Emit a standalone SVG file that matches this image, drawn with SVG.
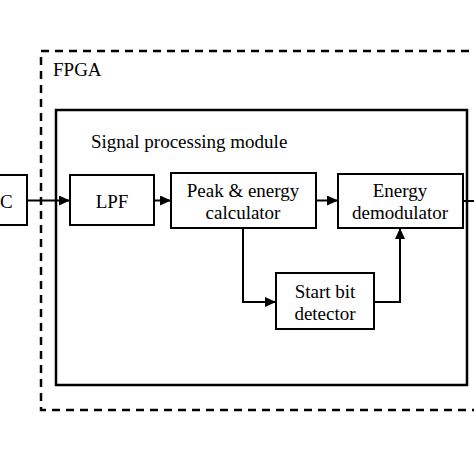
<svg xmlns="http://www.w3.org/2000/svg" width="474" height="474" viewBox="0 0 474 474">
<defs>
<marker id="arr" markerWidth="11" markerHeight="10" refX="11" refY="5" orient="auto" markerUnits="userSpaceOnUse">
<path d="M0,0 L11,5 L0,10 Z" fill="#000"/>
</marker>
<style>
.box{fill:#fff;stroke:#000;stroke-width:2}
.lbl{font-family:"Liberation Serif","Times New Roman",serif;font-size:19px;fill:#000;text-anchor:middle}
.ln{fill:none;stroke:#000;stroke-width:2}
</style>
</defs>
<rect width="474" height="474" fill="#fff"/>
<g id="fpga">
<rect x="41" y="51" width="460" height="359" fill="none" stroke="#000" stroke-width="2.5" stroke-dasharray="8,6"/>
<text x="53" y="76" class="lbl" style="text-anchor:start">FPGA</text>
</g>
<g id="module">
<rect x="56" y="110" width="411" height="275" fill="none" stroke="#000" stroke-width="2.5"/>
<text x="91" y="148" class="lbl" style="text-anchor:start">Signal processing module</text>
</g>
<g id="adc">
<rect x="-40" y="175" width="67" height="50" class="box"/>
<text x="0" y="208" class="lbl" style="text-anchor:start">C</text>
</g>
<g id="lpf">
<rect x="70" y="175" width="84" height="50" class="box"/>
<text x="112" y="208" class="lbl">LPF</text>
</g>
<g id="peak">
<rect x="171" y="173" width="145" height="55" class="box"/>
<text x="243" y="197" class="lbl">Peak &amp; energy</text>
<text x="243" y="219" class="lbl">calculator</text>
</g>
<g id="demod">
<rect x="338" y="174" width="125" height="54" class="box"/>
<text x="400" y="197" class="lbl">Energy</text>
<text x="400" y="219" class="lbl">demodulator</text>
</g>
<g id="startbit">
<rect x="276" y="273" width="98" height="56" class="box"/>
<text x="325" y="298" class="lbl">Start bit</text>
<text x="325" y="320" class="lbl">detector</text>
</g>
<g id="connectors">
<line x1="27" y1="200.5" x2="70" y2="200.5" class="ln" marker-end="url(#arr)"/>
<line x1="154" y1="200.5" x2="171" y2="200.5" class="ln" marker-end="url(#arr)"/>
<line x1="316" y1="200.5" x2="338" y2="200.5" class="ln" marker-end="url(#arr)"/>
<line x1="463" y1="201" x2="474" y2="201" class="ln"/>
<polyline points="243,228 243,302 276,302" class="ln" marker-end="url(#arr)"/>
<polyline points="374,302 400,302 400,228" class="ln" marker-end="url(#arr)"/>
</g>
</svg>
